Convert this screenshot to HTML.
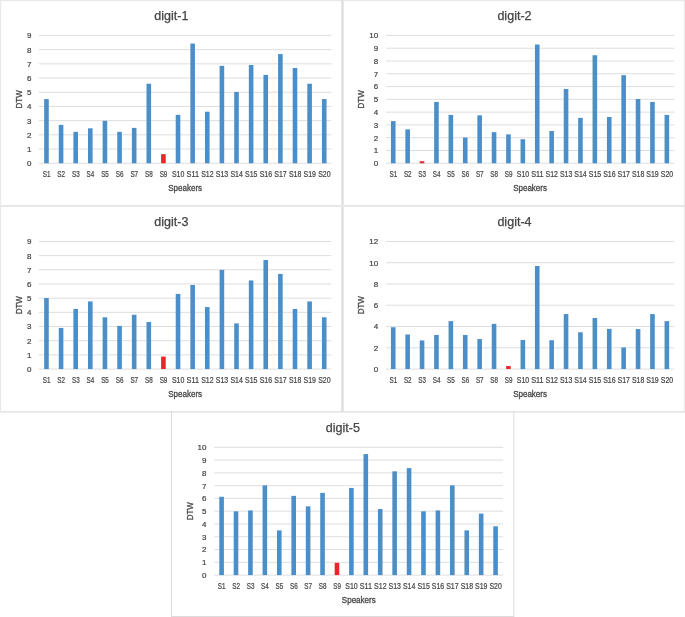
<!DOCTYPE html>
<html lang="en">
<head>
<meta charset="utf-8">
<title>DTW per speaker, digits 1-5</title>
<style>
html,body{margin:0;padding:0;background:#fff;}
body{width:685px;height:617px;overflow:hidden;}
svg{display:block;}
text{font-family:"Liberation Sans",sans-serif;fill:#454545;stroke:#454545;stroke-width:0.22px;}
.t{font-size:12px;text-anchor:middle;stroke-width:0.25px;}
.a{font-size:8.5px;text-anchor:middle;stroke-width:0.3px;}
.y{font-size:8px;text-anchor:end;}
.x{font-size:8.4px;text-anchor:middle;}
</style>
</head>
<body>
<svg width="685" height="617" viewBox="0 0 685 617">
<rect x="0" y="0" width="685" height="617" fill="#ffffff"/>

<g fill="#dcdcdc">
<rect x="0" y="0" width="685" height="1.2" fill="#e9e9e9"/>
<rect x="0" y="0" width="1.2" height="412" fill="#e9e9e9"/>
<rect x="683.8" y="0" width="1.2" height="412" fill="#e9e9e9"/>
<rect x="341.3" y="0" width="2.4" height="412" fill="#dedede"/>
<rect x="0" y="205" width="685" height="2" fill="#e7e7e7"/>
<rect x="0" y="411" width="685" height="1.6" fill="#e4e4e4"/>
<rect x="171" y="412" width="1" height="205"/>
<rect x="513.3" y="412" width="1" height="205"/>
<rect x="171" y="616" width="343.3" height="1"/>
</g>
<g>
<g stroke="#dedede" stroke-width="1" fill="none">
<line x1="38.90" y1="163.25" x2="331.40" y2="163.25"/>
<line x1="38.90" y1="149.05" x2="331.40" y2="149.05"/>
<line x1="38.90" y1="134.85" x2="331.40" y2="134.85"/>
<line x1="38.90" y1="120.65" x2="331.40" y2="120.65"/>
<line x1="38.90" y1="106.45" x2="331.40" y2="106.45"/>
<line x1="38.90" y1="92.25" x2="331.40" y2="92.25"/>
<line x1="38.90" y1="78.05" x2="331.40" y2="78.05"/>
<line x1="38.90" y1="63.85" x2="331.40" y2="63.85"/>
<line x1="38.90" y1="49.65" x2="331.40" y2="49.65"/>
<line x1="38.90" y1="35.45" x2="331.40" y2="35.45"/>
</g>
<g fill="#4a8fc9">
<rect x="44.15" y="99.07" width="4.60" height="64.18"/>
<rect x="58.77" y="124.91" width="4.60" height="38.34"/>
<rect x="73.39" y="131.87" width="4.60" height="31.38"/>
<rect x="88.01" y="128.32" width="4.60" height="34.93"/>
<rect x="102.63" y="120.79" width="4.60" height="42.46"/>
<rect x="117.25" y="131.87" width="4.60" height="31.38"/>
<rect x="131.87" y="127.89" width="4.60" height="35.36"/>
<rect x="146.49" y="83.73" width="4.60" height="79.52"/>
<rect x="161.11" y="154.16" width="4.60" height="9.09" fill="#e8262b"/>
<rect x="175.73" y="114.83" width="4.60" height="48.42"/>
<rect x="190.35" y="43.54" width="4.60" height="119.71"/>
<rect x="204.97" y="111.70" width="4.60" height="51.55"/>
<rect x="219.59" y="65.84" width="4.60" height="97.41"/>
<rect x="234.21" y="91.97" width="4.60" height="71.28"/>
<rect x="248.83" y="64.99" width="4.60" height="98.26"/>
<rect x="263.45" y="74.93" width="4.60" height="88.32"/>
<rect x="278.07" y="54.05" width="4.60" height="109.20"/>
<rect x="292.69" y="67.97" width="4.60" height="95.28"/>
<rect x="307.31" y="83.73" width="4.60" height="79.52"/>
<rect x="321.93" y="99.07" width="4.60" height="64.18"/>
</g>
<text class="y" x="31.50" y="166.15">0</text>
<text class="y" x="31.50" y="151.95">1</text>
<text class="y" x="31.50" y="137.75">2</text>
<text class="y" x="31.50" y="123.55">3</text>
<text class="y" x="31.50" y="109.35">4</text>
<text class="y" x="31.50" y="95.15">5</text>
<text class="y" x="31.50" y="80.95">6</text>
<text class="y" x="31.50" y="66.75">7</text>
<text class="y" x="31.50" y="52.55">8</text>
<text class="y" x="31.50" y="38.35">9</text>
<text class="x" x="46.55" y="177.35" textLength="7.7" lengthAdjust="spacingAndGlyphs">S1</text>
<text class="x" x="61.17" y="177.35" textLength="7.7" lengthAdjust="spacingAndGlyphs">S2</text>
<text class="x" x="75.79" y="177.35" textLength="7.7" lengthAdjust="spacingAndGlyphs">S3</text>
<text class="x" x="90.41" y="177.35" textLength="7.7" lengthAdjust="spacingAndGlyphs">S4</text>
<text class="x" x="105.03" y="177.35" textLength="7.7" lengthAdjust="spacingAndGlyphs">S5</text>
<text class="x" x="119.65" y="177.35" textLength="7.7" lengthAdjust="spacingAndGlyphs">S6</text>
<text class="x" x="134.27" y="177.35" textLength="7.7" lengthAdjust="spacingAndGlyphs">S7</text>
<text class="x" x="148.89" y="177.35" textLength="7.7" lengthAdjust="spacingAndGlyphs">S8</text>
<text class="x" x="163.51" y="177.35" textLength="7.7" lengthAdjust="spacingAndGlyphs">S9</text>
<text class="x" x="178.13" y="177.35" textLength="12.4" lengthAdjust="spacingAndGlyphs">S10</text>
<text class="x" x="192.75" y="177.35" textLength="12.4" lengthAdjust="spacingAndGlyphs">S11</text>
<text class="x" x="207.37" y="177.35" textLength="12.4" lengthAdjust="spacingAndGlyphs">S12</text>
<text class="x" x="221.99" y="177.35" textLength="12.4" lengthAdjust="spacingAndGlyphs">S13</text>
<text class="x" x="236.61" y="177.35" textLength="12.4" lengthAdjust="spacingAndGlyphs">S14</text>
<text class="x" x="251.23" y="177.35" textLength="12.4" lengthAdjust="spacingAndGlyphs">S15</text>
<text class="x" x="265.85" y="177.35" textLength="12.4" lengthAdjust="spacingAndGlyphs">S16</text>
<text class="x" x="280.47" y="177.35" textLength="12.4" lengthAdjust="spacingAndGlyphs">S17</text>
<text class="x" x="295.09" y="177.35" textLength="12.4" lengthAdjust="spacingAndGlyphs">S18</text>
<text class="x" x="309.71" y="177.35" textLength="12.4" lengthAdjust="spacingAndGlyphs">S19</text>
<text class="x" x="324.33" y="177.35" textLength="12.4" lengthAdjust="spacingAndGlyphs">S20</text>
<text class="t" x="171.40" y="20.10" textLength="34.2" lengthAdjust="spacingAndGlyphs">digit-1</text>
<text class="a" x="185.15" y="191.25" textLength="33.8" lengthAdjust="spacingAndGlyphs">Speakers</text>
<text class="a" transform="translate(21.60 99.35) rotate(-90)" x="0" y="0" textLength="18.2" lengthAdjust="spacingAndGlyphs">DTW</text>
</g>
<g>
<g stroke="#dedede" stroke-width="1" fill="none">
<line x1="385.90" y1="163.25" x2="674.25" y2="163.25"/>
<line x1="385.90" y1="150.47" x2="674.25" y2="150.47"/>
<line x1="385.90" y1="137.69" x2="674.25" y2="137.69"/>
<line x1="385.90" y1="124.91" x2="674.25" y2="124.91"/>
<line x1="385.90" y1="112.13" x2="674.25" y2="112.13"/>
<line x1="385.90" y1="99.35" x2="674.25" y2="99.35"/>
<line x1="385.90" y1="86.57" x2="674.25" y2="86.57"/>
<line x1="385.90" y1="73.79" x2="674.25" y2="73.79"/>
<line x1="385.90" y1="61.01" x2="674.25" y2="61.01"/>
<line x1="385.90" y1="48.23" x2="674.25" y2="48.23"/>
<line x1="385.90" y1="35.45" x2="674.25" y2="35.45"/>
</g>
<g fill="#4a8fc9">
<rect x="390.95" y="121.08" width="4.60" height="42.17"/>
<rect x="405.35" y="129.38" width="4.60" height="33.87"/>
<rect x="419.75" y="161.21" width="4.60" height="2.04" fill="#e8262b"/>
<rect x="434.15" y="101.91" width="4.60" height="61.34"/>
<rect x="448.55" y="114.94" width="4.60" height="48.31"/>
<rect x="462.95" y="137.56" width="4.60" height="25.69"/>
<rect x="477.35" y="115.33" width="4.60" height="47.92"/>
<rect x="491.75" y="132.19" width="4.60" height="31.06"/>
<rect x="506.15" y="134.37" width="4.60" height="28.88"/>
<rect x="520.55" y="139.22" width="4.60" height="24.03"/>
<rect x="534.95" y="44.52" width="4.60" height="118.73"/>
<rect x="549.35" y="131.04" width="4.60" height="32.21"/>
<rect x="563.75" y="89.00" width="4.60" height="74.25"/>
<rect x="578.15" y="117.88" width="4.60" height="45.37"/>
<rect x="592.55" y="55.26" width="4.60" height="107.99"/>
<rect x="606.95" y="116.99" width="4.60" height="46.26"/>
<rect x="621.35" y="75.20" width="4.60" height="88.05"/>
<rect x="635.75" y="98.97" width="4.60" height="64.28"/>
<rect x="650.15" y="101.91" width="4.60" height="61.34"/>
<rect x="664.55" y="114.94" width="4.60" height="48.31"/>
</g>
<text class="y" x="378.20" y="166.15">0</text>
<text class="y" x="378.20" y="153.37">1</text>
<text class="y" x="378.20" y="140.59">2</text>
<text class="y" x="378.20" y="127.81">3</text>
<text class="y" x="378.20" y="115.03">4</text>
<text class="y" x="378.20" y="102.25">5</text>
<text class="y" x="378.20" y="89.47">6</text>
<text class="y" x="378.20" y="76.69">7</text>
<text class="y" x="378.20" y="63.91">8</text>
<text class="y" x="378.20" y="51.13">9</text>
<text class="y" x="378.20" y="38.35">10</text>
<text class="x" x="393.35" y="177.35" textLength="7.7" lengthAdjust="spacingAndGlyphs">S1</text>
<text class="x" x="407.75" y="177.35" textLength="7.7" lengthAdjust="spacingAndGlyphs">S2</text>
<text class="x" x="422.15" y="177.35" textLength="7.7" lengthAdjust="spacingAndGlyphs">S3</text>
<text class="x" x="436.55" y="177.35" textLength="7.7" lengthAdjust="spacingAndGlyphs">S4</text>
<text class="x" x="450.95" y="177.35" textLength="7.7" lengthAdjust="spacingAndGlyphs">S5</text>
<text class="x" x="465.35" y="177.35" textLength="7.7" lengthAdjust="spacingAndGlyphs">S6</text>
<text class="x" x="479.75" y="177.35" textLength="7.7" lengthAdjust="spacingAndGlyphs">S7</text>
<text class="x" x="494.15" y="177.35" textLength="7.7" lengthAdjust="spacingAndGlyphs">S8</text>
<text class="x" x="508.55" y="177.35" textLength="7.7" lengthAdjust="spacingAndGlyphs">S9</text>
<text class="x" x="522.95" y="177.35" textLength="12.4" lengthAdjust="spacingAndGlyphs">S10</text>
<text class="x" x="537.35" y="177.35" textLength="12.4" lengthAdjust="spacingAndGlyphs">S11</text>
<text class="x" x="551.75" y="177.35" textLength="12.4" lengthAdjust="spacingAndGlyphs">S12</text>
<text class="x" x="566.15" y="177.35" textLength="12.4" lengthAdjust="spacingAndGlyphs">S13</text>
<text class="x" x="580.55" y="177.35" textLength="12.4" lengthAdjust="spacingAndGlyphs">S14</text>
<text class="x" x="594.95" y="177.35" textLength="12.4" lengthAdjust="spacingAndGlyphs">S15</text>
<text class="x" x="609.35" y="177.35" textLength="12.4" lengthAdjust="spacingAndGlyphs">S16</text>
<text class="x" x="623.75" y="177.35" textLength="12.4" lengthAdjust="spacingAndGlyphs">S17</text>
<text class="x" x="638.15" y="177.35" textLength="12.4" lengthAdjust="spacingAndGlyphs">S18</text>
<text class="x" x="652.55" y="177.35" textLength="12.4" lengthAdjust="spacingAndGlyphs">S19</text>
<text class="x" x="666.95" y="177.35" textLength="12.4" lengthAdjust="spacingAndGlyphs">S20</text>
<text class="t" x="514.50" y="20.10" textLength="34.2" lengthAdjust="spacingAndGlyphs">digit-2</text>
<text class="a" x="530.08" y="191.25" textLength="33.8" lengthAdjust="spacingAndGlyphs">Speakers</text>
<text class="a" transform="translate(364.40 99.35) rotate(-90)" x="0" y="0" textLength="18.2" lengthAdjust="spacingAndGlyphs">DTW</text>
</g>
<g>
<g stroke="#dedede" stroke-width="1" fill="none">
<line x1="38.90" y1="369.05" x2="331.40" y2="369.05"/>
<line x1="38.90" y1="354.87" x2="331.40" y2="354.87"/>
<line x1="38.90" y1="340.69" x2="331.40" y2="340.69"/>
<line x1="38.90" y1="326.52" x2="331.40" y2="326.52"/>
<line x1="38.90" y1="312.34" x2="331.40" y2="312.34"/>
<line x1="38.90" y1="298.16" x2="331.40" y2="298.16"/>
<line x1="38.90" y1="283.98" x2="331.40" y2="283.98"/>
<line x1="38.90" y1="269.81" x2="331.40" y2="269.81"/>
<line x1="38.90" y1="255.63" x2="331.40" y2="255.63"/>
<line x1="38.90" y1="241.45" x2="331.40" y2="241.45"/>
</g>
<g fill="#4a8fc9">
<rect x="44.15" y="298.02" width="4.60" height="71.03"/>
<rect x="58.77" y="327.93" width="4.60" height="41.12"/>
<rect x="73.39" y="308.94" width="4.60" height="60.11"/>
<rect x="88.01" y="301.42" width="4.60" height="67.63"/>
<rect x="102.63" y="317.30" width="4.60" height="51.75"/>
<rect x="117.25" y="325.95" width="4.60" height="43.10"/>
<rect x="131.87" y="314.75" width="4.60" height="54.30"/>
<rect x="146.49" y="321.98" width="4.60" height="47.07"/>
<rect x="161.11" y="356.57" width="4.60" height="12.48" fill="#e8262b"/>
<rect x="175.73" y="293.91" width="4.60" height="75.14"/>
<rect x="190.35" y="284.98" width="4.60" height="84.07"/>
<rect x="204.97" y="307.09" width="4.60" height="61.96"/>
<rect x="219.59" y="269.81" width="4.60" height="99.24"/>
<rect x="234.21" y="323.40" width="4.60" height="45.65"/>
<rect x="248.83" y="280.44" width="4.60" height="88.61"/>
<rect x="263.45" y="260.02" width="4.60" height="109.03"/>
<rect x="278.07" y="273.92" width="4.60" height="95.13"/>
<rect x="292.69" y="308.94" width="4.60" height="60.11"/>
<rect x="307.31" y="301.42" width="4.60" height="67.63"/>
<rect x="321.93" y="317.30" width="4.60" height="51.75"/>
</g>
<text class="y" x="31.50" y="371.95">0</text>
<text class="y" x="31.50" y="357.77">1</text>
<text class="y" x="31.50" y="343.59">2</text>
<text class="y" x="31.50" y="329.42">3</text>
<text class="y" x="31.50" y="315.24">4</text>
<text class="y" x="31.50" y="301.06">5</text>
<text class="y" x="31.50" y="286.88">6</text>
<text class="y" x="31.50" y="272.71">7</text>
<text class="y" x="31.50" y="258.53">8</text>
<text class="y" x="31.50" y="244.35">9</text>
<text class="x" x="46.55" y="383.15" textLength="7.7" lengthAdjust="spacingAndGlyphs">S1</text>
<text class="x" x="61.17" y="383.15" textLength="7.7" lengthAdjust="spacingAndGlyphs">S2</text>
<text class="x" x="75.79" y="383.15" textLength="7.7" lengthAdjust="spacingAndGlyphs">S3</text>
<text class="x" x="90.41" y="383.15" textLength="7.7" lengthAdjust="spacingAndGlyphs">S4</text>
<text class="x" x="105.03" y="383.15" textLength="7.7" lengthAdjust="spacingAndGlyphs">S5</text>
<text class="x" x="119.65" y="383.15" textLength="7.7" lengthAdjust="spacingAndGlyphs">S6</text>
<text class="x" x="134.27" y="383.15" textLength="7.7" lengthAdjust="spacingAndGlyphs">S7</text>
<text class="x" x="148.89" y="383.15" textLength="7.7" lengthAdjust="spacingAndGlyphs">S8</text>
<text class="x" x="163.51" y="383.15" textLength="7.7" lengthAdjust="spacingAndGlyphs">S9</text>
<text class="x" x="178.13" y="383.15" textLength="12.4" lengthAdjust="spacingAndGlyphs">S10</text>
<text class="x" x="192.75" y="383.15" textLength="12.4" lengthAdjust="spacingAndGlyphs">S11</text>
<text class="x" x="207.37" y="383.15" textLength="12.4" lengthAdjust="spacingAndGlyphs">S12</text>
<text class="x" x="221.99" y="383.15" textLength="12.4" lengthAdjust="spacingAndGlyphs">S13</text>
<text class="x" x="236.61" y="383.15" textLength="12.4" lengthAdjust="spacingAndGlyphs">S14</text>
<text class="x" x="251.23" y="383.15" textLength="12.4" lengthAdjust="spacingAndGlyphs">S15</text>
<text class="x" x="265.85" y="383.15" textLength="12.4" lengthAdjust="spacingAndGlyphs">S16</text>
<text class="x" x="280.47" y="383.15" textLength="12.4" lengthAdjust="spacingAndGlyphs">S17</text>
<text class="x" x="295.09" y="383.15" textLength="12.4" lengthAdjust="spacingAndGlyphs">S18</text>
<text class="x" x="309.71" y="383.15" textLength="12.4" lengthAdjust="spacingAndGlyphs">S19</text>
<text class="x" x="324.33" y="383.15" textLength="12.4" lengthAdjust="spacingAndGlyphs">S20</text>
<text class="t" x="171.40" y="226.10" textLength="34.2" lengthAdjust="spacingAndGlyphs">digit-3</text>
<text class="a" x="185.15" y="397.05" textLength="33.8" lengthAdjust="spacingAndGlyphs">Speakers</text>
<text class="a" transform="translate(21.60 305.25) rotate(-90)" x="0" y="0" textLength="18.2" lengthAdjust="spacingAndGlyphs">DTW</text>
</g>
<g>
<g stroke="#dedede" stroke-width="1" fill="none">
<line x1="385.90" y1="369.05" x2="674.25" y2="369.05"/>
<line x1="385.90" y1="347.78" x2="674.25" y2="347.78"/>
<line x1="385.90" y1="326.52" x2="674.25" y2="326.52"/>
<line x1="385.90" y1="305.25" x2="674.25" y2="305.25"/>
<line x1="385.90" y1="283.98" x2="674.25" y2="283.98"/>
<line x1="385.90" y1="262.72" x2="674.25" y2="262.72"/>
<line x1="385.90" y1="241.45" x2="674.25" y2="241.45"/>
</g>
<g fill="#4a8fc9">
<rect x="390.95" y="327.26" width="4.60" height="41.79"/>
<rect x="405.35" y="334.49" width="4.60" height="34.56"/>
<rect x="419.75" y="340.45" width="4.60" height="28.60"/>
<rect x="434.15" y="335.02" width="4.60" height="34.03"/>
<rect x="448.55" y="321.09" width="4.60" height="47.96"/>
<rect x="462.95" y="335.02" width="4.60" height="34.03"/>
<rect x="477.35" y="339.06" width="4.60" height="29.99"/>
<rect x="491.75" y="323.86" width="4.60" height="45.19"/>
<rect x="506.15" y="366.07" width="4.60" height="2.98" fill="#e8262b"/>
<rect x="520.55" y="340.02" width="4.60" height="29.03"/>
<rect x="534.95" y="266.01" width="4.60" height="103.04"/>
<rect x="549.35" y="340.23" width="4.60" height="28.82"/>
<rect x="563.75" y="314.08" width="4.60" height="54.97"/>
<rect x="578.15" y="332.26" width="4.60" height="36.79"/>
<rect x="592.55" y="318.01" width="4.60" height="51.04"/>
<rect x="606.95" y="328.86" width="4.60" height="40.19"/>
<rect x="621.35" y="347.46" width="4.60" height="21.59"/>
<rect x="635.75" y="329.07" width="4.60" height="39.98"/>
<rect x="650.15" y="314.08" width="4.60" height="54.97"/>
<rect x="664.55" y="321.09" width="4.60" height="47.96"/>
</g>
<text class="y" x="378.20" y="371.95">0</text>
<text class="y" x="378.20" y="350.68">2</text>
<text class="y" x="378.20" y="329.42">4</text>
<text class="y" x="378.20" y="308.15">6</text>
<text class="y" x="378.20" y="286.88">8</text>
<text class="y" x="378.20" y="265.62">10</text>
<text class="y" x="378.20" y="244.35">12</text>
<text class="x" x="393.35" y="383.15" textLength="7.7" lengthAdjust="spacingAndGlyphs">S1</text>
<text class="x" x="407.75" y="383.15" textLength="7.7" lengthAdjust="spacingAndGlyphs">S2</text>
<text class="x" x="422.15" y="383.15" textLength="7.7" lengthAdjust="spacingAndGlyphs">S3</text>
<text class="x" x="436.55" y="383.15" textLength="7.7" lengthAdjust="spacingAndGlyphs">S4</text>
<text class="x" x="450.95" y="383.15" textLength="7.7" lengthAdjust="spacingAndGlyphs">S5</text>
<text class="x" x="465.35" y="383.15" textLength="7.7" lengthAdjust="spacingAndGlyphs">S6</text>
<text class="x" x="479.75" y="383.15" textLength="7.7" lengthAdjust="spacingAndGlyphs">S7</text>
<text class="x" x="494.15" y="383.15" textLength="7.7" lengthAdjust="spacingAndGlyphs">S8</text>
<text class="x" x="508.55" y="383.15" textLength="7.7" lengthAdjust="spacingAndGlyphs">S9</text>
<text class="x" x="522.95" y="383.15" textLength="12.4" lengthAdjust="spacingAndGlyphs">S10</text>
<text class="x" x="537.35" y="383.15" textLength="12.4" lengthAdjust="spacingAndGlyphs">S11</text>
<text class="x" x="551.75" y="383.15" textLength="12.4" lengthAdjust="spacingAndGlyphs">S12</text>
<text class="x" x="566.15" y="383.15" textLength="12.4" lengthAdjust="spacingAndGlyphs">S13</text>
<text class="x" x="580.55" y="383.15" textLength="12.4" lengthAdjust="spacingAndGlyphs">S14</text>
<text class="x" x="594.95" y="383.15" textLength="12.4" lengthAdjust="spacingAndGlyphs">S15</text>
<text class="x" x="609.35" y="383.15" textLength="12.4" lengthAdjust="spacingAndGlyphs">S16</text>
<text class="x" x="623.75" y="383.15" textLength="12.4" lengthAdjust="spacingAndGlyphs">S17</text>
<text class="x" x="638.15" y="383.15" textLength="12.4" lengthAdjust="spacingAndGlyphs">S18</text>
<text class="x" x="652.55" y="383.15" textLength="12.4" lengthAdjust="spacingAndGlyphs">S19</text>
<text class="x" x="666.95" y="383.15" textLength="12.4" lengthAdjust="spacingAndGlyphs">S20</text>
<text class="t" x="514.50" y="226.10" textLength="34.2" lengthAdjust="spacingAndGlyphs">digit-4</text>
<text class="a" x="530.08" y="397.05" textLength="33.8" lengthAdjust="spacingAndGlyphs">Speakers</text>
<text class="a" transform="translate(364.40 305.25) rotate(-90)" x="0" y="0" textLength="18.2" lengthAdjust="spacingAndGlyphs">DTW</text>
</g>
<g>
<g stroke="#dedede" stroke-width="1" fill="none">
<line x1="214.30" y1="575.10" x2="503.20" y2="575.10"/>
<line x1="214.30" y1="562.32" x2="503.20" y2="562.32"/>
<line x1="214.30" y1="549.54" x2="503.20" y2="549.54"/>
<line x1="214.30" y1="536.76" x2="503.20" y2="536.76"/>
<line x1="214.30" y1="523.98" x2="503.20" y2="523.98"/>
<line x1="214.30" y1="511.20" x2="503.20" y2="511.20"/>
<line x1="214.30" y1="498.42" x2="503.20" y2="498.42"/>
<line x1="214.30" y1="485.64" x2="503.20" y2="485.64"/>
<line x1="214.30" y1="472.86" x2="503.20" y2="472.86"/>
<line x1="214.30" y1="460.08" x2="503.20" y2="460.08"/>
<line x1="214.30" y1="447.30" x2="503.20" y2="447.30"/>
</g>
<g fill="#4a8fc9">
<rect x="219.30" y="496.76" width="4.60" height="78.34"/>
<rect x="233.72" y="511.33" width="4.60" height="63.77"/>
<rect x="248.14" y="510.43" width="4.60" height="64.67"/>
<rect x="262.56" y="485.38" width="4.60" height="89.72"/>
<rect x="276.98" y="530.37" width="4.60" height="44.73"/>
<rect x="291.40" y="495.86" width="4.60" height="79.24"/>
<rect x="305.82" y="506.34" width="4.60" height="68.76"/>
<rect x="320.24" y="492.92" width="4.60" height="82.18"/>
<rect x="334.66" y="562.83" width="4.60" height="12.27" fill="#e8262b"/>
<rect x="349.08" y="487.94" width="4.60" height="87.16"/>
<rect x="363.50" y="454.07" width="4.60" height="121.03"/>
<rect x="377.92" y="509.03" width="4.60" height="66.07"/>
<rect x="392.34" y="471.33" width="4.60" height="103.77"/>
<rect x="406.76" y="468.13" width="4.60" height="106.97"/>
<rect x="421.18" y="511.33" width="4.60" height="63.77"/>
<rect x="435.60" y="510.43" width="4.60" height="64.67"/>
<rect x="450.02" y="485.38" width="4.60" height="89.72"/>
<rect x="464.44" y="530.37" width="4.60" height="44.73"/>
<rect x="478.86" y="513.63" width="4.60" height="61.47"/>
<rect x="493.28" y="526.28" width="4.60" height="48.82"/>
</g>
<text class="y" x="206.50" y="578.00">0</text>
<text class="y" x="206.50" y="565.22">1</text>
<text class="y" x="206.50" y="552.44">2</text>
<text class="y" x="206.50" y="539.66">3</text>
<text class="y" x="206.50" y="526.88">4</text>
<text class="y" x="206.50" y="514.10">5</text>
<text class="y" x="206.50" y="501.32">6</text>
<text class="y" x="206.50" y="488.54">7</text>
<text class="y" x="206.50" y="475.76">8</text>
<text class="y" x="206.50" y="462.98">9</text>
<text class="y" x="206.50" y="450.20">10</text>
<text class="x" x="221.70" y="589.20" textLength="7.7" lengthAdjust="spacingAndGlyphs">S1</text>
<text class="x" x="236.12" y="589.20" textLength="7.7" lengthAdjust="spacingAndGlyphs">S2</text>
<text class="x" x="250.54" y="589.20" textLength="7.7" lengthAdjust="spacingAndGlyphs">S3</text>
<text class="x" x="264.96" y="589.20" textLength="7.7" lengthAdjust="spacingAndGlyphs">S4</text>
<text class="x" x="279.38" y="589.20" textLength="7.7" lengthAdjust="spacingAndGlyphs">S5</text>
<text class="x" x="293.80" y="589.20" textLength="7.7" lengthAdjust="spacingAndGlyphs">S6</text>
<text class="x" x="308.22" y="589.20" textLength="7.7" lengthAdjust="spacingAndGlyphs">S7</text>
<text class="x" x="322.64" y="589.20" textLength="7.7" lengthAdjust="spacingAndGlyphs">S8</text>
<text class="x" x="337.06" y="589.20" textLength="7.7" lengthAdjust="spacingAndGlyphs">S9</text>
<text class="x" x="351.48" y="589.20" textLength="12.4" lengthAdjust="spacingAndGlyphs">S10</text>
<text class="x" x="365.90" y="589.20" textLength="12.4" lengthAdjust="spacingAndGlyphs">S11</text>
<text class="x" x="380.32" y="589.20" textLength="12.4" lengthAdjust="spacingAndGlyphs">S12</text>
<text class="x" x="394.74" y="589.20" textLength="12.4" lengthAdjust="spacingAndGlyphs">S13</text>
<text class="x" x="409.16" y="589.20" textLength="12.4" lengthAdjust="spacingAndGlyphs">S14</text>
<text class="x" x="423.58" y="589.20" textLength="12.4" lengthAdjust="spacingAndGlyphs">S15</text>
<text class="x" x="438.00" y="589.20" textLength="12.4" lengthAdjust="spacingAndGlyphs">S16</text>
<text class="x" x="452.42" y="589.20" textLength="12.4" lengthAdjust="spacingAndGlyphs">S17</text>
<text class="x" x="466.84" y="589.20" textLength="12.4" lengthAdjust="spacingAndGlyphs">S18</text>
<text class="x" x="481.26" y="589.20" textLength="12.4" lengthAdjust="spacingAndGlyphs">S19</text>
<text class="x" x="495.68" y="589.20" textLength="12.4" lengthAdjust="spacingAndGlyphs">S20</text>
<text class="t" x="342.80" y="431.60" textLength="34.2" lengthAdjust="spacingAndGlyphs">digit-5</text>
<text class="a" x="358.75" y="603.10" textLength="33.8" lengthAdjust="spacingAndGlyphs">Speakers</text>
<text class="a" transform="translate(192.80 511.20) rotate(-90)" x="0" y="0" textLength="18.2" lengthAdjust="spacingAndGlyphs">DTW</text>
</g>
</svg>
</body>
</html>
